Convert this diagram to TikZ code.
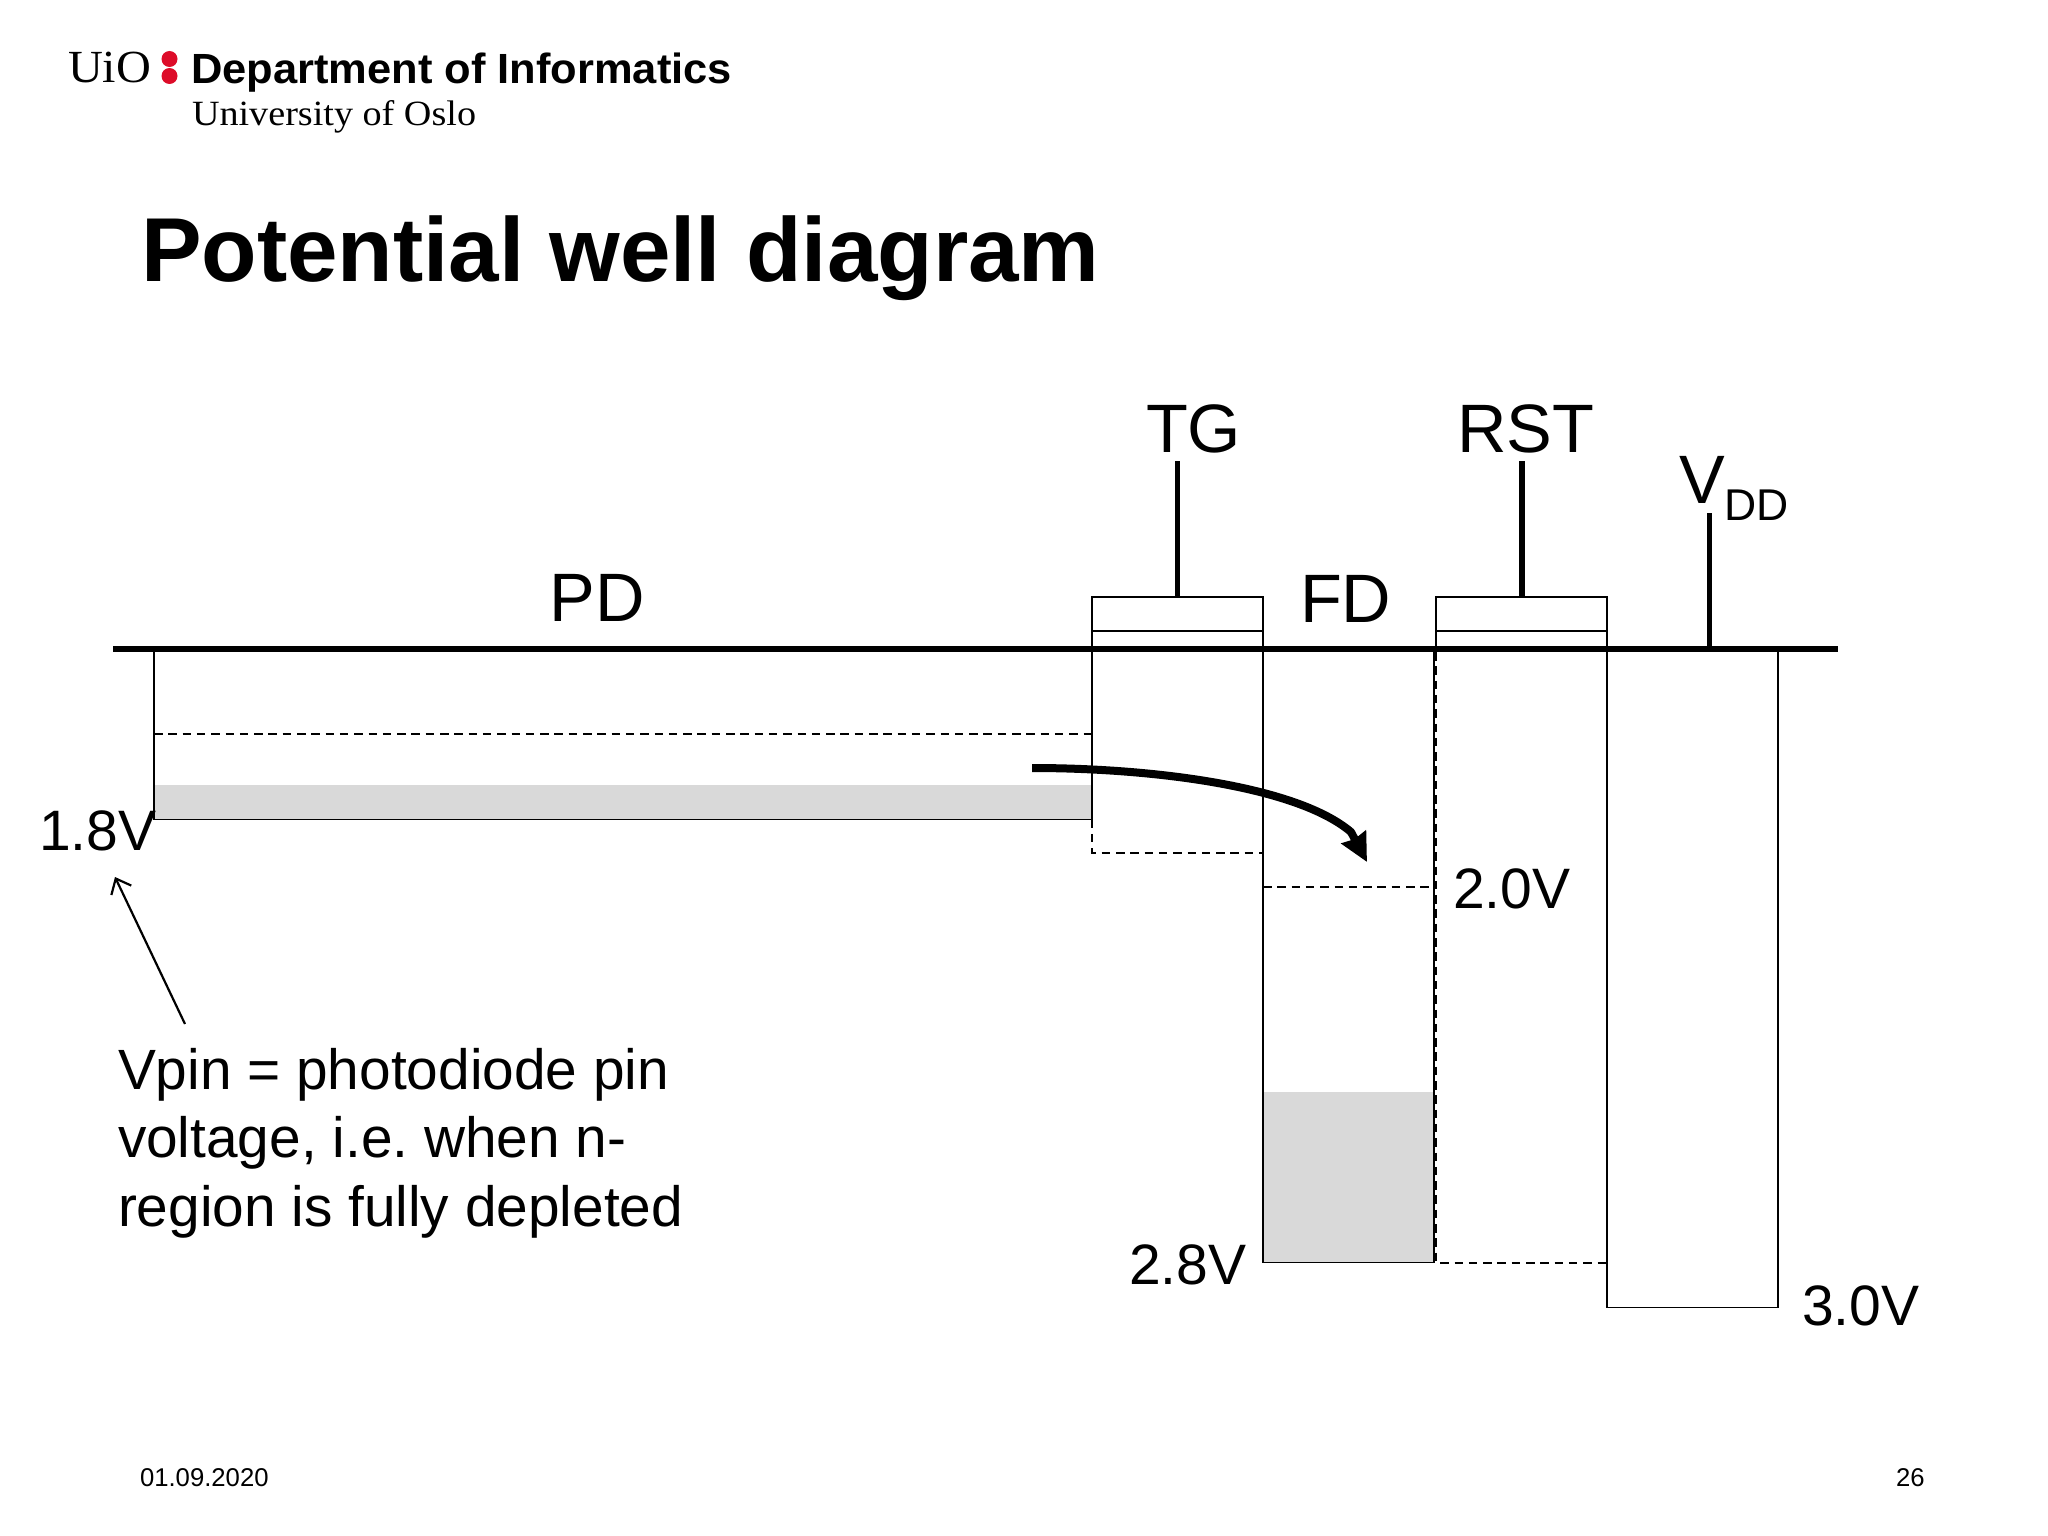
\documentclass[tikz,border=0pt]{standalone}
\usepackage{fontspec}
\setmainfont{Liberation Sans}
\newfontfamily\serifa[FakeStretch=1.05]{Liberation Serif}
\newfontfamily\serifb[FakeStretch=1.075]{Liberation Serif}
\newfontfamily\deptfont[FakeStretch=1.03]{Liberation Sans Bold}
\usetikzlibrary{arrows.meta}
\definecolor{welldark}{HTML}{D9D9D9}
\definecolor{uiored}{HTML}{DD0C29}
\frenchspacing
\tikzset{
  txt/.style={anchor=base west,inner sep=0pt,outer sep=0pt,text=black},
  biglab/.style={txt,font=\fontsize{68.5}{68.5}\selectfont},
  volt/.style={txt,font=\fontsize{57}{57}\selectfont},
  foot/.style={txt,font=\fontsize{25.7}{25.7}\selectfont},
  wall/.style={line width=1.9pt,black},
  dline/.style={line width=1.9pt,black,dash pattern=on 8.5pt off 5.8pt},
  stem/.style={line width=5.6pt,black},
  surface/.style={line width=6.2pt,black},
  gate/.style={draw=black,line width=1.9pt,fill=white,anchor=north west,inner sep=0pt,outer sep=0pt,minimum width=171pt,minimum height=34.3pt},
  channel/.style={draw=black,line width=1.9pt,fill=white,anchor=north west,inner sep=0pt,outer sep=0pt,minimum width=171pt,minimum height=15.5pt},
  charge/.style={fill=welldark,draw=none,anchor=north west,inner sep=0pt,outer sep=0pt},
}
\begin{document}
\begin{tikzpicture}[x=1pt,y=-1pt]
\useasboundingbox[fill=white] (0,0) rectangle (2048,1536);
% header
\node[txt,font=\serifa\fontsize{46}{46}\selectfont] (uio) at (68,83) {UiO};
\fill[uiored] (169.5,59) ellipse (8pt and 8pt);
\fill[uiored] (169.5,76) ellipse (8pt and 8pt);
\node[txt,font=\deptfont\fontsize{42.2}{42.2}\selectfont] (dept) at (191,83.5) {Department of Informatics};
\node[txt,font=\serifb\fontsize{35.5}{35.5}\selectfont] (uni) at (192,126) {University of Oslo};
\node[txt,font=\bfseries\fontsize{90.8}{90.8}\selectfont] (title) at (141,281) {Potential well diagram};
% coordinates
\coordinate (sL) at (113,648.7);
\coordinate (sR) at (1838,648.7);
\coordinate (pdTL) at (154,648);
\coordinate (pdBL) at (154,819.5);
\coordinate (pdBR) at (1092,819.5);
\coordinate (pdDL) at (154,734);
\coordinate (pdDR) at (1092,734);
\coordinate (tgL) at (1092,597);
\coordinate (tgLd) at (1092,852.7);
\coordinate (tgRd) at (1263,852.7);
\coordinate (tgT) at (1177.5,597);
\coordinate (tgUp) at (1177.5,461);
\coordinate (fdTL) at (1263,597);
\coordinate (fdBL) at (1263,1262.5);
\coordinate (fdBR) at (1433.7,1262.5);
\coordinate (fdTR) at (1433.7,648);
\coordinate (fdDL) at (1263,887.3);
\coordinate (fdDR) at (1431,887.3);
\coordinate (rstL) at (1436,652);
\coordinate (rstLb) at (1436,1262.7);
\coordinate (rstRb) at (1607,1262.7);
\coordinate (rstUp) at (1522,461);
\coordinate (rstT) at (1522,597);
\coordinate (ddTL) at (1607,648);
\coordinate (ddBL) at (1607,1307.5);
\coordinate (ddBR) at (1778,1307.5);
\coordinate (ddTR) at (1778,650);
\coordinate (vddUp) at (1709.5,513);
\coordinate (vddDn) at (1709.5,648);
\coordinate (arrA) at (1032,768);
\coordinate (arrK) at (1351,832);
\coordinate (arrB) at (1367,862);
\coordinate (pinA) at (185,1024);
\coordinate (pinB) at (115,877);
% charge
\node[charge,minimum width=938pt,minimum height=34.5pt] (pdcharge) at (154,785) {};
\node[charge,minimum width=170.5pt,minimum height=171pt] (fdcharge) at (1263,1091.5) {};
% walls
\draw[wall] (pdTL) -- (pdBL) -- (pdBR);
\draw[dline] (pdDL) -- (pdDR);
\draw[wall] (tgL) -- (pdBR);
\draw[dline] (pdBR) -- (tgLd) -- (tgRd);
\draw[wall] (fdTL) -- (fdBL) -- (fdBR) -- (fdTR);
\draw[dline] (fdDL) -- (fdDR);
\draw[dline] (rstL) -- (rstLb) -- (rstRb);
\draw[wall] (ddTL) -- (ddBL) -- (ddBR) -- (ddTR);
% surface and gates
\draw[surface] (sL) -- (sR);
\node[gate] (tgbox) at (1092,597) {};
\draw[wall] (tgbox.south west) -- ++(0,17);
\draw[wall] (tgbox.south east) -- ++(0,17);
\node[gate] (rstbox) at (1436,597) {};
\node[channel] (rstch) at (1436,631.3) {};
\draw[stem] (tgUp) -- (tgT);
\draw[stem] (rstUp) -- (rstT);
\draw[stem] (vddUp) -- (vddDn);
% arrows
\draw[line width=8pt,black,line join=round,-{Stealth[length=28pt,width=27pt,inset=2pt]}] (arrA) .. controls (1152,768) and (1297,786) .. (arrK) -- (arrB);
\draw[line width=2.2pt,black,-{Straight Barb[length=13pt,width=22pt]}] (pinA) -- (pinB);
% labels
\node[biglab] (pd) at (549.5,621) {PD};
\node[biglab] (tg) at (1146,452) {TG};
\node[biglab] (rst) at (1457,452) {RST};
\node[biglab] (fd) at (1300,622) {FD};
\node[biglab] (vdd) at (1679,503) {V\raisebox{-17pt}{\fontsize{44.5}{44.5}\selectfont DD}};
\node[volt] (v18) at (39,850) {1.8V};
\node[volt] (v20) at (1453,908) {2.0V};
\node[volt] (v28) at (1129,1284) {2.8V};
\node[volt] (v30) at (1802,1325) {3.0V};
\node[anchor=north west,inner sep=0pt,outer sep=0pt,align=left,font=\fontsize{56.8}{68.6}\selectfont] (vpin) at (118,1048) {Vpin = photodiode pin\\voltage, i.e. when n-\\region is fully depleted};
\node[foot] (date) at (140,1486) {01.09.2020};
\node[foot] (page) at (1896,1486) {26};
\end{tikzpicture}
\end{document}
